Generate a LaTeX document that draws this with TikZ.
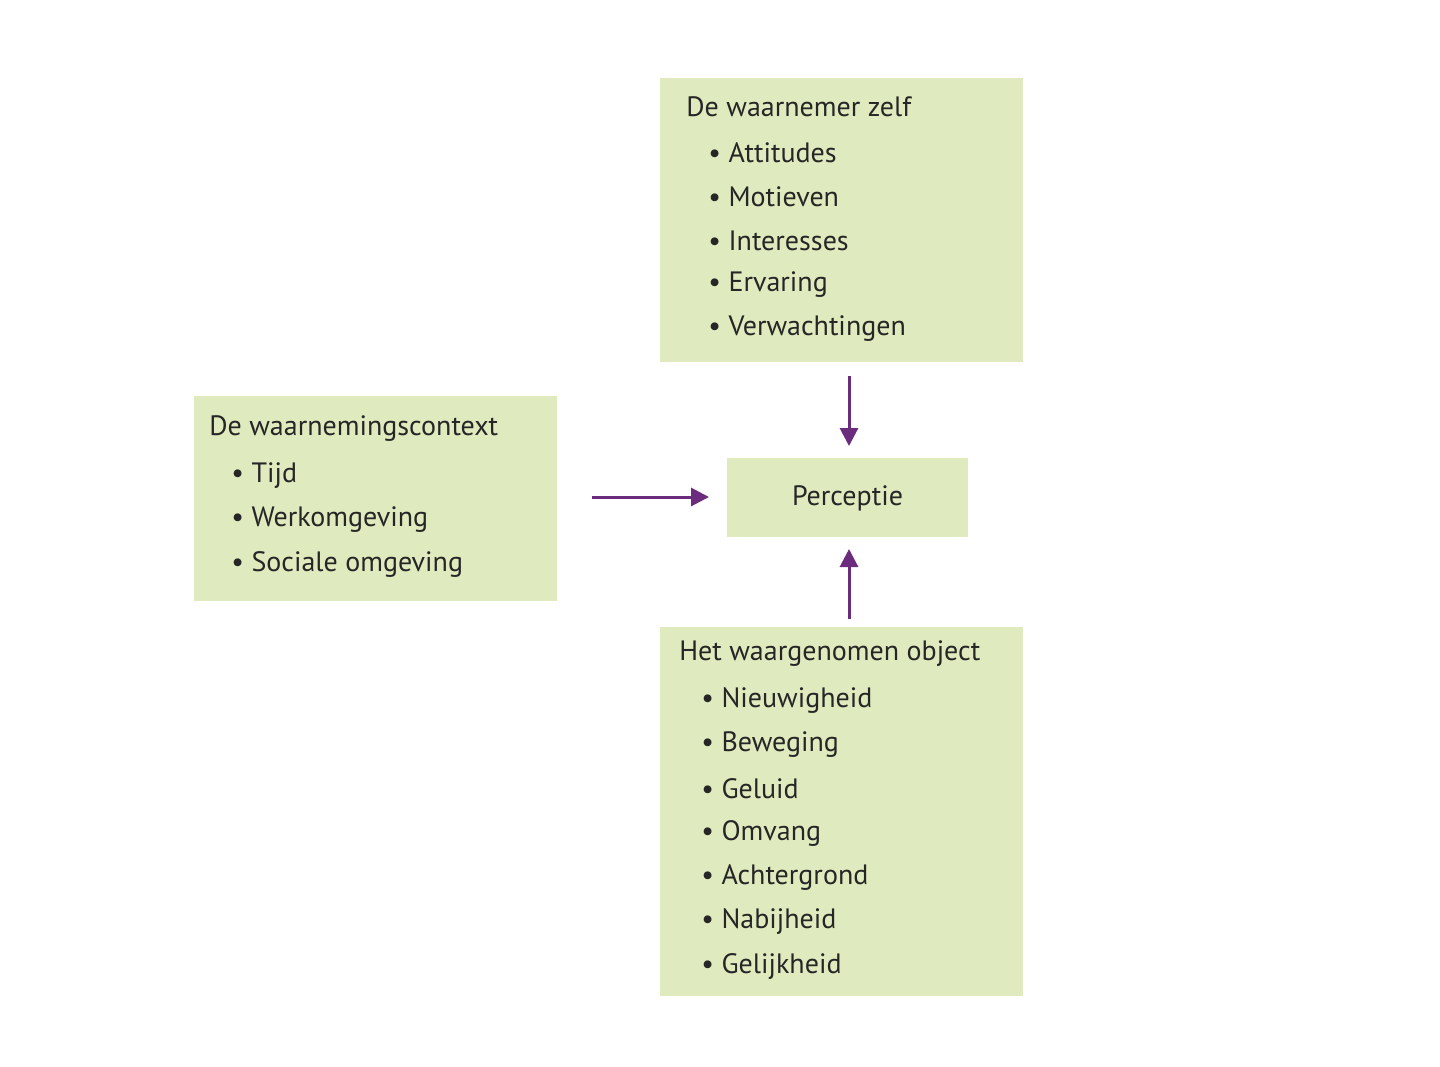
\documentclass[tikz,border=0pt]{standalone}
\usepackage{fontspec}
\setmainfont{PT Sans}
\usetikzlibrary{arrows.meta}
\definecolor{boxfill}{HTML}{DFEBBE}
\definecolor{arr}{HTML}{6B2C7E}
\tikzset{
  box/.style={fill=boxfill,draw=none},
  txt/.style={anchor=west,inner sep=0pt,font=\fontsize{14}{16}\selectfont,text=black!85},
  conn/.style={draw=arr,line width=1.5pt,-{Triangle[length=9pt,width=9pt]}}
}
\begin{document}
\begin{tikzpicture}[x=0.5pt,y=-0.5pt]
\useasboundingbox (0,0) rectangle (1440,1066);
\fill[white] (0,0) rectangle (1440,1066);
\fill[box] (660,78) rectangle (1023,362);
\fill[box] (194,396) rectangle (557,601);
\fill[box] (727,458) rectangle (968,537);
\fill[box] (660,627) rectangle (1023,996);
\node (per) at (847.5,498) [inner sep=0pt,font=\fontsize{14}{16}\selectfont,text=black!85] {Perceptie};
\node[txt] (h1) at (686,107) {De waarnemer zelf};
\foreach \t [count=\i] in {Attitudes,Motieven,Interesses,Ervaring,Verwachtingen}
  \node[txt] (a\i) at (708,109+44*\i) {\textbullet\ \t};
\node[txt] (h2) at (209,429) {De waarnemingscontext};
\foreach \t [count=\i] in {Tijd,Werkomgeving,Sociale omgeving}
  \node[txt] (b\i) at (231,432+44*\i) {\textbullet\ \t};
\node[txt] (h3) at (679,654) {Het waargenomen object};
\foreach \t [count=\i] in {Nieuwigheid,Beweging,Geluid,Omvang,Achtergrond,Nabijheid,Gelijkheid}
  \node[txt] (c\i) at (701,656+44.3*\i) {\textbullet\ \t};
\coordinate (t1) at (849,376); \coordinate (t2) at (849,446);
\coordinate (l1) at (592,497); \coordinate (l2) at (709,497);
\coordinate (b1) at (849,619); \coordinate (b2) at (849,549);
\draw[conn] (t1) -- (t2);
\draw[conn] (l1) -- (l2);
\draw[conn] (b1) -- (b2);
\end{tikzpicture}
\end{document}
